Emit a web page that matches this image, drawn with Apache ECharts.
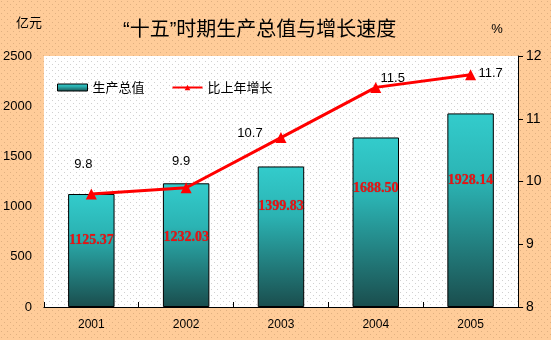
<!DOCTYPE html>
<html>
<head>
<meta charset="utf-8">
<style>
  html, body { margin: 0; padding: 0; background: #FFCC99; }
  #main { width: 551px; height: 340px; }
</style>
<script src="https://cdn.jsdelivr.net/npm/echarts@6/dist/echarts.min.js"></script>
</head>
<body>
<div id="main"></div>
<script>
// 数据
var years = ['2001', '2002', '2003', '2004', '2005'];
var output = [1125.37, 1232.03, 1399.83, 1688.50, 1928.14];   // 生产总值 亿元
var growth = [9.8, 9.9, 10.7, 11.5, 11.7];                    // 比上年增长 %
var leftTicks = [0, 2500, 500];
var rightTicks = [8, 12, 1];

(function() {
    // 点状底纹
    function dots(bg, dot) {
        var c = document.createElement('canvas');
        c.width = 6; c.height = 6;
        var ctx = c.getContext('2d');
        ctx.fillStyle = bg;
        ctx.fillRect(0, 0, 6, 6);
        ctx.fillStyle = dot;
        ctx.fillRect(1, 1, 1, 1);
        ctx.fillRect(4, 4, 1, 1);
        return { image: c, repeat: 'repeat' };
    }

    // 标签位置微调（与原图一致）
    var barLabelY = [46, 54, 40, 51, 67];
    var lineLabelOffset = [[-8, -30], [-5, -26], [-31, -4], [17, -9], [20, -1]];

    var font = '"Liberation Sans", Arial, sans-serif';
    var cjk = '"Noto Sans CJK SC", sans-serif';

    var barGradient = new echarts.graphic.LinearGradient(0, 0, 0, 1, [
        { offset: 0, color: '#33CCCC' },
        { offset: 0.35, color: '#2BB3B3' },
        { offset: 1, color: '#1A4D4D' }
    ]);

    var myechart = echarts.init(document.getElementById('main'));
    var option = {
        animation: false,
        backgroundColor: dots('#FFCC99', '#E0B080'),
        title: {
            text: '“十五”时期生产总值与增长速度',
            left: 118,
            top: 15,
            textStyle: { fontFamily: '"Liberation Sans", "Noto Sans CJK SC", sans-serif', fontSize: 20, fontWeight: 'normal', color: '#000' }
        },
        legend: {
            left: 52,
            top: 76,
            itemGap: 27,
            itemWidth: 30,
            itemHeight: 7,
            textStyle: { fontFamily: cjk, fontSize: 13, color: '#000' },
            data: [
                { name: '生产总值', icon: 'rect', itemStyle: { borderColor: '#000', borderWidth: 1 } },
                { name: '比上年增长' }
            ]
        },
        grid: {
            left: 37,
            right: 33,
            top: 56,
            bottom: 33,
            show: true,
            borderWidth: 0,
            backgroundColor: dots('#FFFFFF', '#D0D0D0')
        },
        xAxis: {
            type: 'category',
            data: years,
            axisLine: { lineStyle: { color: '#000', width: 1 } },
            axisTick: { show: true, inside: true, length: 5, lineStyle: { color: '#000' } },
            axisLabel: { color: '#000', fontSize: 12, fontFamily: font, margin: 12 }
        },
        yAxis: [{
            type: 'value',
            min: leftTicks[0],
            max: leftTicks[1],
            interval: leftTicks[2],
            name: '亿元',
            nameLocation: 'end',
            nameGap: 27,
            nameTextStyle: { fontFamily: cjk, fontSize: 13, color: '#000', padding: [0, 30, 0, 0] },
            axisLine: { show: false },
            axisTick: { show: false },
            splitLine: { show: false },
            axisLabel: {
                color: '#000', fontSize: 13, fontFamily: font, margin: 12,
                formatter: function(v) { return String(v); }
            }
        }, {
            type: 'value',
            position: 'right',
            min: rightTicks[0],
            max: rightTicks[1],
            interval: rightTicks[2],
            name: '%',
            nameLocation: 'end',
            nameGap: 20,
            nameTextStyle: { fontFamily: font, fontSize: 13, color: '#000', padding: [0, 42, 0, 0] },
            axisLine: { show: true, lineStyle: { color: '#000', width: 1 } },
            axisTick: { show: true, length: 5, lineStyle: { color: '#000' } },
            splitLine: { show: false },
            axisLabel: { color: '#000', fontSize: 14, fontFamily: font, margin: 8 }
        }],
        series: [{
            name: '生产总值',
            type: 'bar',
            barWidth: '49%',
            itemStyle: { color: barGradient, borderColor: '#000', borderWidth: 1 },
            data: output.map(function(v, i) {
                return {
                    value: v,
                    label: { position: ['50%', barLabelY[i]] }
                };
            }),
            label: {
                show: true,
                align: 'center',
                verticalAlign: 'middle',
                formatter: function(p) { return p.value.toFixed(2); },
                color: '#EE1111',
                fontFamily: '"Liberation Serif", "Times New Roman", serif',
                fontWeight: 'bold',
                fontSize: 14,
                textShadowColor: 'rgba(120,0,0,0.5)',
                textShadowBlur: 1
            },
            z: 2
        }, {
            name: '比上年增长',
            type: 'line',
            yAxisIndex: 1,
            symbol: 'triangle',
            symbolSize: 11,
            lineStyle: { color: '#FF0000', width: 3 },
            itemStyle: { color: '#FF0000' },
            data: growth.map(function(v, i) {
                return {
                    value: v,
                    label: { offset: lineLabelOffset[i] }
                };
            }),
            label: {
                show: true,
                position: 'inside',
                color: '#000',
                fontSize: 13,
                fontFamily: font
            },
            z: 3
        }]
    };
    myechart.setOption(option);
})();
</script>
</body>
</html>
